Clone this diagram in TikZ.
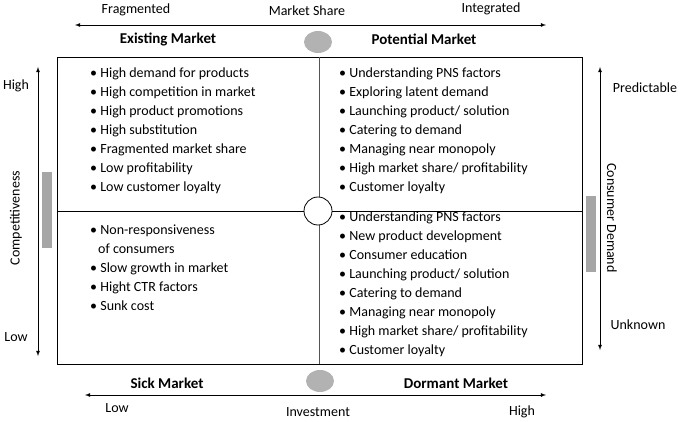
\documentclass[tikz,border=0pt]{standalone}
\usepackage{fontspec}
\setmainfont{Carlito}
\usetikzlibrary{shapes.geometric}
\begin{document}
\begin{tikzpicture}[x=1pt,y=-1pt,
  lbl/.style={font=\fontsize{14}{16}\selectfont,inner sep=0},
  hd/.style={font=\fontsize{15}{17}\selectfont\bfseries,inner sep=0},
  lst/.style={font=\fontsize{14}{19}\selectfont,inner sep=0,anchor=north west,align=left},
  arr/.style={<->,>=latex,thick}]
\useasboundingbox (0,0) rectangle (685,422);
\node[draw,very thick,minimum width=525pt,minimum height=307pt,inner sep=0,anchor=north west] (box) at (57,57) {};
\coordinate (vt) at (319,57); \coordinate (vb) at (319,364);
\coordinate (hl) at (57,211); \coordinate (hr) at (582,211);
\draw[thick,black!60!blue!70] (vt) -- (vb);
\draw[thick] (hl) -- (hr);
\node[circle,draw,thick,fill=white,minimum size=28pt,inner sep=0] (c) at (318,211) {};
\node[ellipse,fill=gray!60,minimum width=28pt,minimum height=22pt,inner sep=0] (et) at (318,42) {};
\node[ellipse,fill=gray!60,minimum width=28pt,minimum height=22pt,inner sep=0] (eb) at (320,381) {};
\fill[gray!70] (42,172) rectangle (52,248);
\fill[gray!70] (586,196) rectangle (596,272);
% arrows
\coordinate (ta) at (75,25); \coordinate (tb) at (546,25);
\draw[arr] (ta) -- (tb);
\coordinate (ba) at (85,395); \coordinate (bb) at (546,395);
\draw[arr] (ba) -- (bb);
\coordinate (la) at (38,67); \coordinate (lb) at (38,356);
\draw[arr] (la) -- (lb);
\coordinate (ra) at (600,67); \coordinate (rb) at (600,350);
\draw[arr] (ra) -- (rb);
\node[lbl] (t1) at (136,10) {Fragmented};
\node[lbl] (t2) at (307,11) {Market Share};
\node[lbl] (t3) at (491,9) {Integrated};
\node[lbl] (b1) at (117,408) {Low};
\node[lbl] (b2) at (318,412) {Investment};
\node[lbl] (b3) at (522,412) {High};
\node[lbl] (l1) at (16,86) {High};
\node[lbl] (l2) at (16,337) {Low};
\node[lbl,rotate=90] (l3) at (16,218) {Competitiveness};
\node[lbl] (r1) at (645,88) {Predictable};
\node[lbl] (r2) at (638,325) {Unknown};
\node[lbl,rotate=-90] (r3) at (612,218) {Consumer Demand};
\node[hd] (h1) at (168,39) {Existing Market};
\node[hd] (h2) at (424,39) {Potential Market};
\node[hd] (h3) at (167,383) {Sick Market};
\node[hd] (h4) at (456,383) {Dormant Market};
\node[lst] (q1) at (90,68) {• High demand for products\\• High competition in market\\• High product promotions\\• High substitution\\• Fragmented market share\\• Low profitability\\• Low customer loyalty};
\node[lst] (q2) at (339,68) {• Understanding PNS factors\\• Exploring latent demand\\• Launching product/ solution\\• Catering to demand\\• Managing near monopoly\\• High market share/ profitability\\• Customer loyalty};
\node[lst] (q3) at (90,225) {• Non-responsiveness\\\hspace{8pt}of consumers\\• Slow growth in market\\• Hight CTR factors\\• Sunk cost};
\node[lst] (q4) at (339,212) {• Understanding PNS factors\\• New product development\\• Consumer education\\• Launching product/ solution\\• Catering to demand\\• Managing near monopoly\\• High market share/ profitability\\• Customer loyalty};
\end{tikzpicture}
\end{document}
